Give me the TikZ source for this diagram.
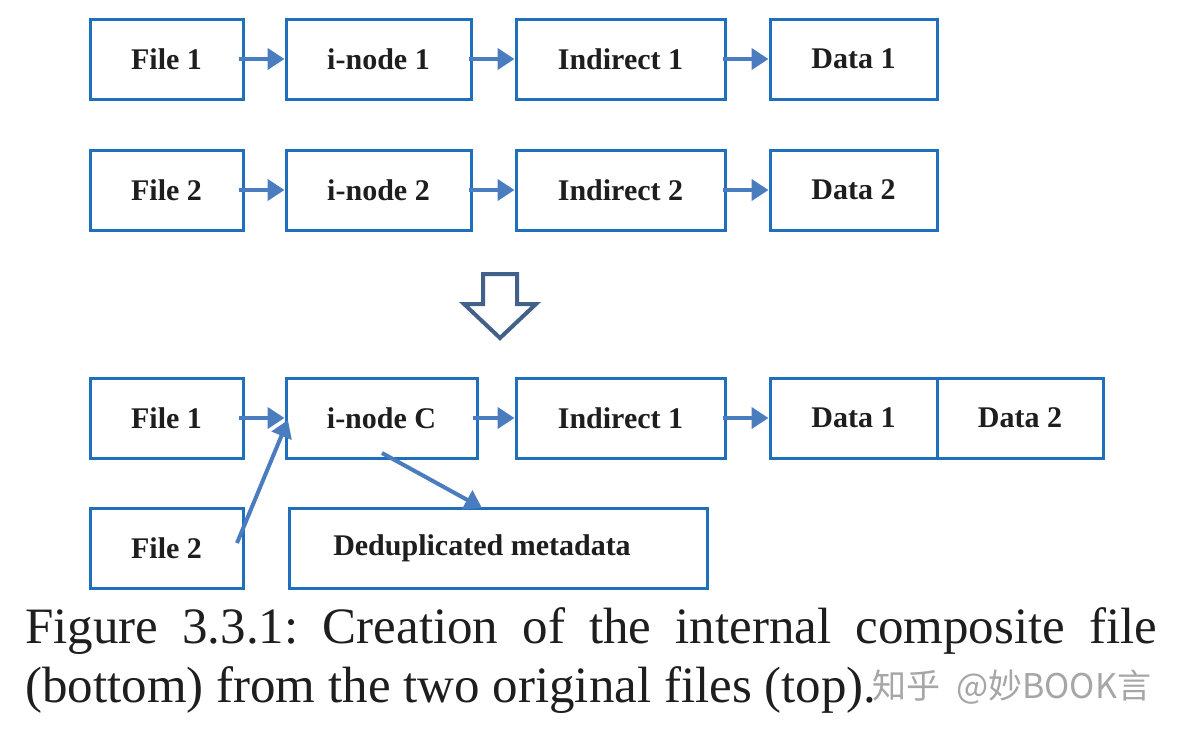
\documentclass[tikz,border=0pt]{standalone}
\usepackage{fontspec}
\setmainfont{Liberation Serif}
\newfontfamily\cjkwm{Noto Sans CJK SC}
\usetikzlibrary{arrows.meta}
\definecolor{boxblue}{HTML}{1F6FBD}
\definecolor{arrblue}{HTML}{4A7CC0}
\definecolor{hollow}{HTML}{41608A}
\definecolor{txt}{HTML}{1E1E1E}
\tikzset{
  box/.style={draw=boxblue, line width=3pt, minimum height=80pt, inner sep=0pt,
    text=txt, font=\fontsize{30}{34}\bfseries\selectfont},
  conn/.style={draw=arrblue, line width=4pt, -{Triangle[length=17pt,width=21pt]}},
}
\begin{document}
\frenchspacing
\begin{tikzpicture}[x=1pt,y=-1pt]
\useasboundingbox (0,0) rectangle (1181,732);
\fill[white] (0,0) rectangle (1181,732);
% Row 1
\node[box, minimum width=153pt] (f1) at (166.5,59) {File 1};
\node[box, minimum width=185pt] (i1) at (378.5,59) {i-node 1};
\node[box, minimum width=209pt] (n1) at (620.5,59) {Indirect 1};
\node[box, minimum width=167pt] (d1) at (853.5,59) {Data 1};
\draw[conn] ([xshift=-6pt]f1.east) -- (i1.west);
\draw[conn] ([xshift=-4pt]i1.east) -- (n1.west);
\draw[conn] ([xshift=-4pt]n1.east) -- (d1.west);
% Row 2
\node[box, minimum width=153pt] (f2) at (166.5,190) {File 2};
\node[box, minimum width=185pt] (i2) at (378.5,190) {i-node 2};
\node[box, minimum width=209pt] (n2) at (620.5,190) {Indirect 2};
\node[box, minimum width=167pt] (d2) at (853.5,190) {Data 2};
\draw[conn] ([xshift=-6pt]f2.east) -- (i2.west);
\draw[conn] ([xshift=-4pt]i2.east) -- (n2.west);
\draw[conn] ([xshift=-4pt]n2.east) -- (d2.west);
% Hollow arrow
\draw[hollow, line width=4pt, line join=miter, fill=white]
  (483,274) -- (517,274) -- (517,304) -- (536,304) -- (500,338) -- (464,304) -- (483,304) -- cycle;
% Row 3
\node[box, minimum width=153pt] (f3) at (166.5,418) {File 1};
\node[box, minimum width=191pt] (ic) at (381.5,418) {i-node C};
\node[box, minimum width=209pt] (n3) at (620.5,418) {Indirect 1};
\node[box, minimum width=167pt] (d3) at (853.5,418) {Data 1};
\node[box, minimum width=166pt] (d4) at (1020,418) {Data 2};
\draw[conn] ([xshift=-6pt]f3.east) -- (ic.west);
\draw[conn] ([xshift=-6pt]ic.east) -- (n3.west);
\draw[conn] ([xshift=-4pt]n3.east) -- (d3.west);
% Row 4
\node[box, minimum width=153pt] (f4) at (166.5,548) {File 2};
\node[box, minimum width=418pt] (dm) at (498,548) {Deduplicated metadata\hspace*{32pt}};
\coordinate (f4s) at (237,543);
\coordinate (ict) at (288,420);
\coordinate (ics) at (382,453);
\coordinate (dmt) at (482,508);
\draw[conn] (f4s) -- (ict);
\draw[conn] (ics) -- (dmt);
% Caption
\node[anchor=base west, inner sep=0pt, text=txt, font=\fontsize{51}{59}\selectfont] (cap1) at (25,643)
  {\makebox[1132pt][s]{Figure 3.3.1: Creation of the internal composite file}};
\node[anchor=base west, inner sep=0pt, text=txt, font=\fontsize{51}{59}\selectfont] (cap2) at (25,702)
  {(bottom) from the two original files (top).};
% Watermark
\node[anchor=base west, inner sep=0pt, text=black!35, font=\cjkwm\fontsize{34}{38}\selectfont] (wm) at (872,698)
  {知乎\hspace{16pt}@妙BOOK言};
\end{tikzpicture}
\end{document}
